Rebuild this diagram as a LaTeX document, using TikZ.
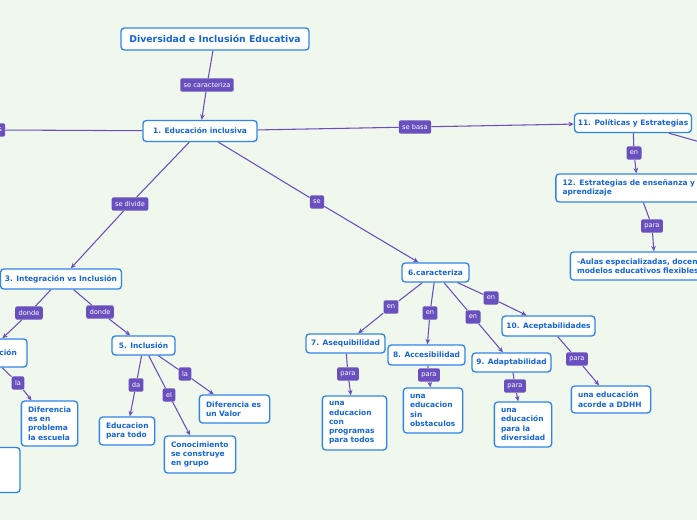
\documentclass[tikz,border=0pt]{standalone}
\usepackage{fontspec}
\setmainfont{DejaVu Sans}
\usetikzlibrary{arrows.meta}
\definecolor{bg}{HTML}{F0F7EC}
\definecolor{bd}{HTML}{2F86E8}
\definecolor{tx}{HTML}{1565D8}
\definecolor{pl}{HTML}{6A4FBF}
\begin{document}
\hyphenpenalty=10000 \exhyphenpenalty=10000
\begin{tikzpicture}[x=0.75pt,y=-0.75pt,
 box/.style={draw=bd,line width=1pt,rounded corners=2.5pt,fill=white,text=tx,font=\fontsize{5.6}{6.9}\selectfont\bfseries,inner sep=2pt},
 ml/.style={align=left,text width=0.75pt*(#1-14),inner xsep=5pt},
 lb/.style={fill=pl,rounded corners=1.5pt,text=white,font=\fontsize{5}{6}\selectfont,inner sep=2.5pt,minimum height=10pt},
 ed/.style={draw=pl,line width=0.8pt,-{Stealth[length=4pt,width=3.5pt]}}]
\useasboundingbox (0,0) rectangle (697,520);
\clip (0,0) rectangle (697,520);
\fill[bg] (0,0) rectangle (697,520);
% nodes
\node[box,minimum width=0.75pt*188,minimum height=0.75pt*22,font=\fontsize{7}{9}\selectfont\bfseries] (t) at (215,39) {Diversidad e Inclusión Educativa};
\node[box,minimum width=0.75pt*114,minimum height=0.75pt*21] (n1) at (200,131) {1. Educación inclusiva};
\node[box,minimum width=0.75pt*117,minimum height=0.75pt*19] (n11) at (633,123) {11. Políticas y Estrategias};
\coordinate (r11) at (700,142);
\node[box,ml=165,minimum height=0.75pt*28] (n12) at (638,188) {12. Estrategias de enseñanza y aprendizaje};
\node[box,ml=170,minimum height=0.75pt*28] (n13) at (655,266) {-Aulas especializadas, docentes, modelos educativos flexibles.};
\node[box,minimum width=0.75pt*121,minimum height=0.75pt*20] (n3) at (61,279) {3. Integración vs Inclusión};
\node[box,minimum width=0.75pt*80,minimum height=0.75pt*28] (n4) at (-13,353) {4. Integración};
\node[box,minimum width=0.75pt*80,minimum height=0.75pt*45] (n4b) at (-20,470) {};
\node[box,ml=57,minimum height=0.75pt*45] (d1) at (49.5,423.5) {Diferencia es en problema la escuela};
\node[box,minimum width=0.75pt*63,minimum height=0.75pt*19] (n5) at (143.5,345.5) {5. Inclusión};
\node[box,ml=56,minimum height=0.75pt*28] (e5) at (127,431) {Educacion para todo};
\node[box,ml=72,minimum height=0.75pt*37] (c5) at (200,454.5) {Conocimiento se construye en grupo};
\node[box,ml=71,minimum height=0.75pt*28] (v5) at (234.5,409) {Diferencia es un Valor};
\node[box,minimum width=0.75pt*67,minimum height=0.75pt*19] (n6) at (435.5,272.5) {6.caracteriza};
\node[box,minimum width=0.75pt*79,minimum height=0.75pt*19] (n7) at (345.5,343.5) {7. Asequibilidad};
\node[box,ml=65,minimum height=0.75pt*54] (a7) at (354.5,423) {una educacion con programas para todos};
\node[box,minimum width=0.75pt*77,minimum height=0.75pt*20] (n8) at (426.5,355) {8. Accesibilidad};
\node[box,ml=60,minimum height=0.75pt*45] (a8) at (433,410.5) {una educacion sin obstaculos};
\node[box,minimum width=0.75pt*79,minimum height=0.75pt*19] (n9) at (511.5,362.5) {9. Adaptabilidad};
\node[box,ml=58,minimum height=0.75pt*45] (a9) at (523,424.5) {una educación para la diversidad};
\node[box,minimum width=0.75pt*93,minimum height=0.75pt*20] (n10) at (548.5,326) {10. Aceptabilidades};
\node[box,ml=80,minimum height=0.75pt*27] (a10) at (611,399.5) {una educación acorde a DDHH};
% labels
\node[lb] (l1) at (207,85) {se caracteriza};
\node[lb] (l2) at (415,127) {se basa};
\node[lb] (l3) at (130,204) {se divide};
\node[lb] (l4) at (317,202) {se};
\node[lb] (l0) at (-2,130) {es};
\coordinate (lft) at (-20,130);
\node[lb] (l5) at (634,153) {en};
\node[lb] (l6) at (652,226) {para};
\node[lb] (l7) at (29,313) {donde};
\node[lb] (l8) at (100,312) {donde};
\node[lb] (l9) at (18,383) {la};
\node[lb] (l10) at (136,385) {da};
\node[lb] (l11) at (169,395) {el};
\node[lb] (l12) at (185,374) {la};
\node[lb] (l13) at (391,307) {en};
\node[lb] (l14) at (430,313) {en};
\node[lb] (l15) at (473,317) {en};
\node[lb] (l16) at (491,298) {en};
\node[lb] (l17) at (348,374) {para};
\node[lb] (l18) at (429,375) {para};
\node[lb] (l19) at (515,386) {para};
\node[lb] (l20) at (577,359) {para};
% edges
\draw[ed] (t) -- (l1) -- (n1);
\draw[ed] (n1) -- (l2) -- (n11);
\draw[ed] (n1) -- (l0) -- (lft);
\draw[draw=pl,line width=0.8pt] (n11) -- (r11);
\draw[ed] (n1) -- (l3) -- (n3);
\draw[ed] (n1) -- (l4) -- (n6);
\draw[ed] (n11) -- (l5) -- (n12);
\draw[ed] (n12) -- (l6) -- (n13);
\draw[ed] (n3) -- (l7) -- (n4);
\draw[ed] (n3) -- (l8) -- (n5);
\draw[ed] (n4) -- (l9) -- (d1);
\draw[ed] (n5) -- (l10) -- (e5);
\draw[ed] (n5) -- (l11) -- (c5);
\draw[ed] (n5) -- (l12) -- (v5);
\draw[ed] (n6) -- (l13) -- (n7);
\draw[ed] (n6) -- (l14) -- (n8);
\draw[ed] (n6) -- (l15) -- (n9);
\draw[ed] (n6) -- (l16) -- (n10);
\draw[ed] (n7) -- (l17) -- (a7);
\draw[ed] (n8) -- (l18) -- (a8);
\draw[ed] (n9) -- (l19) -- (a9);
\draw[ed] (n10) -- (l20) -- (a10);
\end{tikzpicture}
\end{document}
